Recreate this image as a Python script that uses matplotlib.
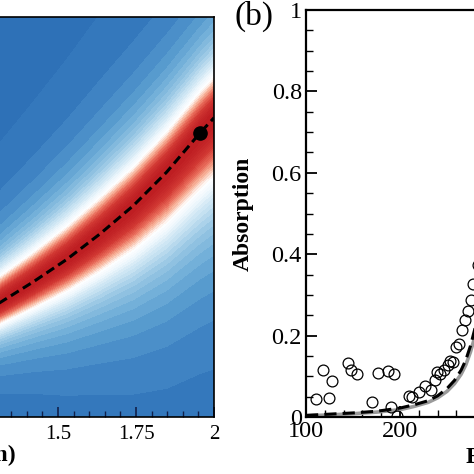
import numpy as np
import matplotlib
matplotlib.use("Agg")
import matplotlib.pyplot as plt
from matplotlib.colors import LinearSegmentedColormap
from matplotlib.ticker import MultipleLocator

plt.rcParams['font.family'] = ['Liberation Serif', 'DejaVu Serif']

# (a) resonance ridge: width (mm) vs frequency (GHz)
ridge_w = [1.0, 1.1, 1.207, 1.314, 1.421, 1.528, 1.635, 1.741, 1.848, 1.955, 2.0]
ridge_f = [176, 197, 219, 243, 269, 297, 329, 364, 406, 455, 474]
# half width of the band above / below the ridge
hw_up = [26, 28, 30, 32, 36, 40, 44, 47, 49, 50, 50]
hw_down = [22, 23, 24, 26, 32, 39, 46, 54, 62, 69, 72]
marker_w = [1.955]
marker_f = [455]

# (b) measured absorption (circles) and two simulated curves
meas_f = [111, 117.7, 124.8, 127.7, 144.7, 147.9, 154, 170.6, 176.9, 187.2, 193.3,
          190.4, 196.8, 209.6, 212.4, 219.9, 226.3, 233, 236.9, 239.4, 242.9, 246.5,
          251.1, 253.5, 256.4, 259.9, 262.8, 266, 269.5, 272.3, 275.5, 277.7, 283]
meas_a = [0.043, 0.116, 0.047, 0.088, 0.133, 0.116, 0.105, 0.036, 0.107, 0.114, 0.105,
          0.024, 0.003, 0.052, 0.048, 0.061, 0.077, 0.067, 0.09, 0.11, 0.105, 0.116,
          0.127, 0.138, 0.135, 0.172, 0.18, 0.214, 0.238, 0.26, 0.287, 0.326, 0.373]
line_f = [100, 125, 150, 175, 200, 215, 230, 240, 250, 258, 265, 270, 275, 280, 285, 290]
sim_dash = [0.004, 0.007, 0.010, 0.014, 0.022, 0.030, 0.040, 0.052, 0.070, 0.090,
            0.115, 0.140, 0.175, 0.220, 0.27, 0.33]
sim_solid = [0.003, 0.005, 0.008, 0.012, 0.018, 0.026, 0.036, 0.047, 0.063, 0.082,
             0.105, 0.128, 0.16, 0.20, 0.25, 0.31]

cmap = LinearSegmentedColormap.from_list('absmap', [
    (0.0, (0.17, 0.43, 0.71)),
    (0.05, (0.22, 0.49, 0.75)),
    (0.1, (0.32, 0.59, 0.80)),
    (0.16, (0.45, 0.69, 0.85)),
    (0.3, (0.75, 0.87, 0.94)),
    (0.42, (0.94, 0.97, 0.99)),
    (0.5, (1.0, 1.0, 1.0)),
    (0.6, (0.97, 0.70, 0.60)),
    (0.7, (0.91, 0.42, 0.35)),
    (0.82, (0.82, 0.22, 0.20)),
    (1.0, (0.74, 0.11, 0.13)),
])

fig = plt.figure(figsize=(4.74, 4.74), dpi=100)

# left panel (partly outside the crop)
ax1 = fig.add_axes([-98 / 474, 1 - 417 / 474, 312 / 474, 400 / 474])
ww, ff = np.meshgrid(np.linspace(1.0, 2.0, 400), np.linspace(100, 600, 500))
f0 = np.interp(ww, ridge_w, ridge_f)
hw = np.where(ff >= f0, np.interp(ww, ridge_w, hw_up), np.interp(ww, ridge_w, hw_down))
A = 1.0 / (1.0 + ((ff - f0) / hw) ** 2)
ax1.contourf(ww, ff, A, levels=np.linspace(0, 1, 41), cmap=cmap)
ax1.plot(ridge_w, ridge_f, ls=(0, (3.0, 1.6)), color='black', lw=2.2)
ax1.plot(marker_w, marker_f, 'o', color='black', ms=9.5)
ax1.set_xlim(1.0, 2.0)
ax1.set_ylim(100, 600)
ax1.xaxis.set_minor_locator(MultipleLocator(0.05))
ax1.set_xticks([1.0, 1.25, 1.5, 1.75, 2.0], ['1', '1.25', '1.5', '1.75', '2'])
ax1.tick_params(axis='x', which='both', direction='in', top=False, labelsize=15, pad=6,
                color='#10204a')
ax1.tick_params(axis='x', which='major', length=7, width=1.2)
ax1.tick_params(axis='x', which='minor', length=4, width=1)
ax1.tick_params(axis='y', which='both', left=False, labelleft=False)
for s in ax1.spines.values():
    s.set_linewidth(1.2)
ax1.set_xlabel('Width (mm)', fontsize=17, fontweight='bold', ha='right', va='center')
ax1.xaxis.set_label_coords((16 + 98) / 312, -(455 - 417) / 400)

# right panel (partly outside the crop)
ax2 = fig.add_axes([306 / 474, 1 - 417 / 474, 470 / 474, 407 / 474])
ax2.plot(line_f, sim_solid, color='#9a9a9a', lw=2.6)
ax2.plot(line_f, sim_dash, color='black', lw=2.2, ls=(0, (4, 2)))
ax2.plot(meas_f, meas_a, 'o', mfc='none', mec='black', ms=7.8, mew=0.9)
ax2.set_xlim(100, 600)
ax2.set_ylim(0, 1)
ax2.xaxis.set_major_locator(MultipleLocator(100))
ax2.xaxis.set_minor_locator(MultipleLocator(20))
ax2.yaxis.set_minor_locator(MultipleLocator(0.05))
ax2.set_yticks([0, 0.2, 0.4, 0.6, 0.8, 1.0], ['0', '0.2', '0.4', '0.6', '0.8', '1'])
ax2.tick_params(which='both', direction='in', labelsize=17.5, pad=3)
ax2.tick_params(which='major', length=8, width=1.3)
ax2.tick_params(which='minor', length=5, width=1)
for s in ax2.spines.values():
    s.set_linewidth(1.6)
ax2.set_ylabel('Absorption', fontsize=17, fontweight='bold')
ax2.yaxis.set_label_coords(-(306 - 254) / 470, 0.5)
ax2.set_xlabel('Frequency (GHz)', fontsize=17, fontweight='bold', ha='left', va='center')
ax2.xaxis.set_label_coords((466 - 306) / 470, -(457 - 417) / 407)

fig.text(254 / 474, 1 - 16 / 474, '(b)', fontsize=24, ha='center', va='center')

fig.savefig('out.png', dpi=100)
